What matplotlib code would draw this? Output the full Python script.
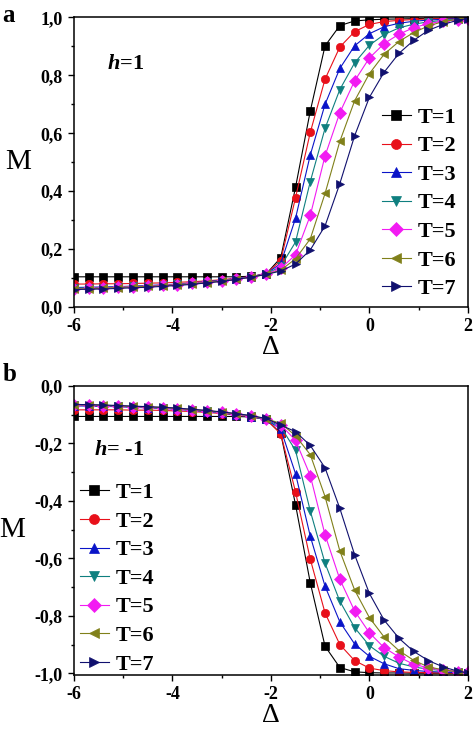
import matplotlib
matplotlib.use("Agg")
import matplotlib.pyplot as plt
from matplotlib.ticker import FuncFormatter, MultipleLocator

plt.rcParams['font.family'] = ['Liberation Serif', 'DejaVu Serif']
plt.rcParams['axes.unicode_minus'] = False
plt.rcParams['mathtext.fontset'] = 'custom'
plt.rcParams['mathtext.it'] = 'Liberation Serif:italic:bold'
plt.rcParams['mathtext.rm'] = 'Liberation Serif:bold'

# anisotropy values (x axis)
delta = [-6.0, -5.7, -5.4, -5.1, -4.8, -4.5, -4.2, -3.9, -3.6, -3.3, -3.0, -2.7, -2.4, -2.1,
         -1.8, -1.5, -1.2, -0.9, -0.6, -0.3, 0.0, 0.3, 0.6, 0.9, 1.2, 1.5, 1.8, 2.0]

labels = ["T=1", "T=2", "T=3", "T=4", "T=5", "T=6", "T=7"]
colors = ["#000000", "#e8101a", "#0a14c8", "#0f7f7f", "#f21bf2", "#80801a", "#10106e"]
markers = ["s", "o", "^", "v", "D", "<", ">"]

# panel a, h = 1
m_a_t1 = [0.104, 0.104, 0.104, 0.104, 0.104, 0.104, 0.104, 0.104, 0.104, 0.104, 0.104, 0.104, 0.106, 0.113,
          0.170, 0.413, 0.677, 0.902, 0.972, 0.988, 0.992, 0.994, 0.995, 0.996, 0.997, 0.998, 0.998, 0.999]
m_a_t2 = [0.079, 0.079, 0.080, 0.080, 0.081, 0.082, 0.083, 0.085, 0.087, 0.090, 0.094, 0.099, 0.105, 0.114,
          0.160, 0.377, 0.603, 0.787, 0.898, 0.951, 0.976, 0.986, 0.990, 0.993, 0.995, 0.996, 0.997, 0.998]
m_a_t3 = [0.067, 0.068, 0.069, 0.070, 0.072, 0.074, 0.076, 0.079, 0.083, 0.087, 0.092, 0.098, 0.105, 0.114,
          0.150, 0.306, 0.525, 0.700, 0.824, 0.902, 0.944, 0.968, 0.980, 0.987, 0.991, 0.994, 0.996, 0.997]
m_a_t4 = [0.065, 0.066, 0.067, 0.069, 0.071, 0.073, 0.075, 0.078, 0.082, 0.086, 0.091, 0.097, 0.104, 0.113,
          0.140, 0.224, 0.433, 0.617, 0.751, 0.843, 0.904, 0.941, 0.964, 0.977, 0.985, 0.990, 0.994, 0.996]
m_a_t5 = [0.063, 0.064, 0.066, 0.068, 0.070, 0.072, 0.074, 0.077, 0.081, 0.085, 0.090, 0.096, 0.104, 0.113,
          0.133, 0.180, 0.316, 0.522, 0.671, 0.781, 0.860, 0.910, 0.942, 0.965, 0.979, 0.987, 0.992, 0.995]
m_a_t6 = [0.062, 0.063, 0.065, 0.067, 0.069, 0.071, 0.073, 0.076, 0.080, 0.084, 0.089, 0.095, 0.103, 0.112,
          0.127, 0.166, 0.235, 0.392, 0.572, 0.712, 0.806, 0.873, 0.917, 0.948, 0.971, 0.986, 0.994, 0.997]
m_a_t7 = [0.060, 0.061, 0.062, 0.064, 0.066, 0.068, 0.071, 0.074, 0.078, 0.083, 0.088, 0.095, 0.103, 0.112,
          0.124, 0.148, 0.197, 0.280, 0.426, 0.591, 0.724, 0.811, 0.876, 0.921, 0.956, 0.976, 0.991, 0.996]

# panel b, h = -1
m_b_t1 = [-0.106, -0.106, -0.106, -0.106, -0.106, -0.106, -0.106, -0.106, -0.106, -0.106, -0.106, -0.106, -0.108, -0.115,
          -0.165, -0.413, -0.685, -0.906, -0.980, -0.995, -0.998, -0.999, -0.999, -1.0, -1.0, -1.0, -1.0, -1.0]
m_b_t2 = [-0.083, -0.083, -0.083, -0.083, -0.084, -0.084, -0.085, -0.087, -0.089, -0.092, -0.096, -0.101, -0.107, -0.116,
          -0.166, -0.368, -0.603, -0.790, -0.900, -0.956, -0.982, -0.991, -0.995, -0.997, -0.998, -0.999, -0.999, -1.0]
m_b_t3 = [-0.069, -0.070, -0.071, -0.072, -0.074, -0.076, -0.078, -0.081, -0.085, -0.089, -0.094, -0.100, -0.107, -0.116,
          -0.150, -0.305, -0.523, -0.697, -0.821, -0.898, -0.941, -0.967, -0.984, -0.990, -0.994, -0.996, -0.998, -0.999]
m_b_t4 = [-0.067, -0.068, -0.069, -0.071, -0.073, -0.075, -0.077, -0.080, -0.084, -0.088, -0.093, -0.099, -0.106, -0.115,
          -0.142, -0.224, -0.435, -0.617, -0.749, -0.841, -0.904, -0.941, -0.965, -0.978, -0.986, -0.991, -0.995, -0.998]
m_b_t5 = [-0.066, -0.067, -0.068, -0.070, -0.072, -0.074, -0.076, -0.079, -0.083, -0.087, -0.092, -0.098, -0.105, -0.115,
          -0.135, -0.189, -0.312, -0.518, -0.673, -0.783, -0.859, -0.911, -0.943, -0.969, -0.981, -0.989, -0.994, -0.997]
m_b_t6 = [-0.065, -0.066, -0.067, -0.069, -0.071, -0.073, -0.075, -0.078, -0.082, -0.086, -0.091, -0.097, -0.104, -0.114,
          -0.130, -0.173, -0.239, -0.385, -0.574, -0.710, -0.806, -0.874, -0.921, -0.955, -0.978, -0.988, -0.995, -0.998]
m_b_t7 = [-0.064, -0.065, -0.066, -0.068, -0.070, -0.072, -0.074, -0.077, -0.081, -0.085, -0.090, -0.096, -0.103, -0.113,
          -0.136, -0.159, -0.207, -0.285, -0.426, -0.587, -0.722, -0.815, -0.878, -0.924, -0.956, -0.978, -0.993, -0.999]

series_a = [m_a_t1, m_a_t2, m_a_t3, m_a_t4, m_a_t5, m_a_t6, m_a_t7]
series_b = [m_b_t1, m_b_t2, m_b_t3, m_b_t4, m_b_t5, m_b_t6, m_b_t7]


def comma(v, pos):
    return ("%.1f" % v).replace(".", ",")


def style_axes(ax):
    ax.set_xlim(-6, 2)
    ax.xaxis.set_major_locator(MultipleLocator(2))
    ax.xaxis.set_minor_locator(MultipleLocator(1))
    ax.yaxis.set_major_locator(MultipleLocator(0.2))
    ax.yaxis.set_minor_locator(MultipleLocator(0.1))
    ax.yaxis.set_major_formatter(FuncFormatter(comma))
    ax.xaxis.set_major_formatter(FuncFormatter(lambda v, p: "%d" % v))
    ax.tick_params(which="both", direction="out", top=False, right=False, width=1)
    ax.tick_params(which="major", length=4, labelsize=13, pad=4)
    ax.tick_params(which="minor", length=2.5)
    for lab in ax.get_xticklabels() + ax.get_yticklabels():
        lab.set_fontweight("bold")
    for s in ax.spines.values():
        s.set_linewidth(1.1)
    ax.set_xlabel("Δ", fontsize=20, labelpad=0)
    ax.set_ylabel("M", fontsize=21, rotation=0, labelpad=16, va="center")


fig = plt.figure(figsize=(4.74, 7.29), dpi=100)
ax1 = fig.add_axes([0.156, 0.579, 0.831, 0.397])
ax2 = fig.add_axes([0.156, 0.0745, 0.831, 0.396])

for ax, series in [(ax1, series_a), (ax2, series_b)]:
    for ys, lab, c, mk in zip(series, labels, colors, markers):
        ax.plot(delta, ys, color=c, marker=mk, markersize=6, linewidth=0.8,
                markeredgewidth=0.5, label=lab)
    style_axes(ax)

ax1.set_ylim(0, 1.0)
ax2.set_ylim(-1.005, 0)

leg_kw = dict(frameon=False, numpoints=1, handlelength=1.3, handletextpad=0.3,
              labelspacing=0.36, borderpad=0, borderaxespad=0, markerscale=1.2,
              prop={"family": "Liberation Serif", "weight": "bold", "size": 16})
ax1.legend(loc="upper left", bbox_to_anchor=(0.782, 0.69), **leg_kw)
ax2.legend(loc="upper left", bbox_to_anchor=(0.015, 0.665), **leg_kw)

ax1.text(-5.33, 0.84, r"$h$=1", fontsize=16, fontweight="bold", va="center")
ax2.text(-5.59, -0.222, r"$h$= -1", fontsize=16, fontweight="bold", va="center")

fig.text(0.005, 0.995, "a", fontsize=18, fontweight="bold", va="top")
fig.text(0.005, 0.502, "b", fontsize=18, fontweight="bold", va="top")

fig.savefig("out.png", dpi=100)
